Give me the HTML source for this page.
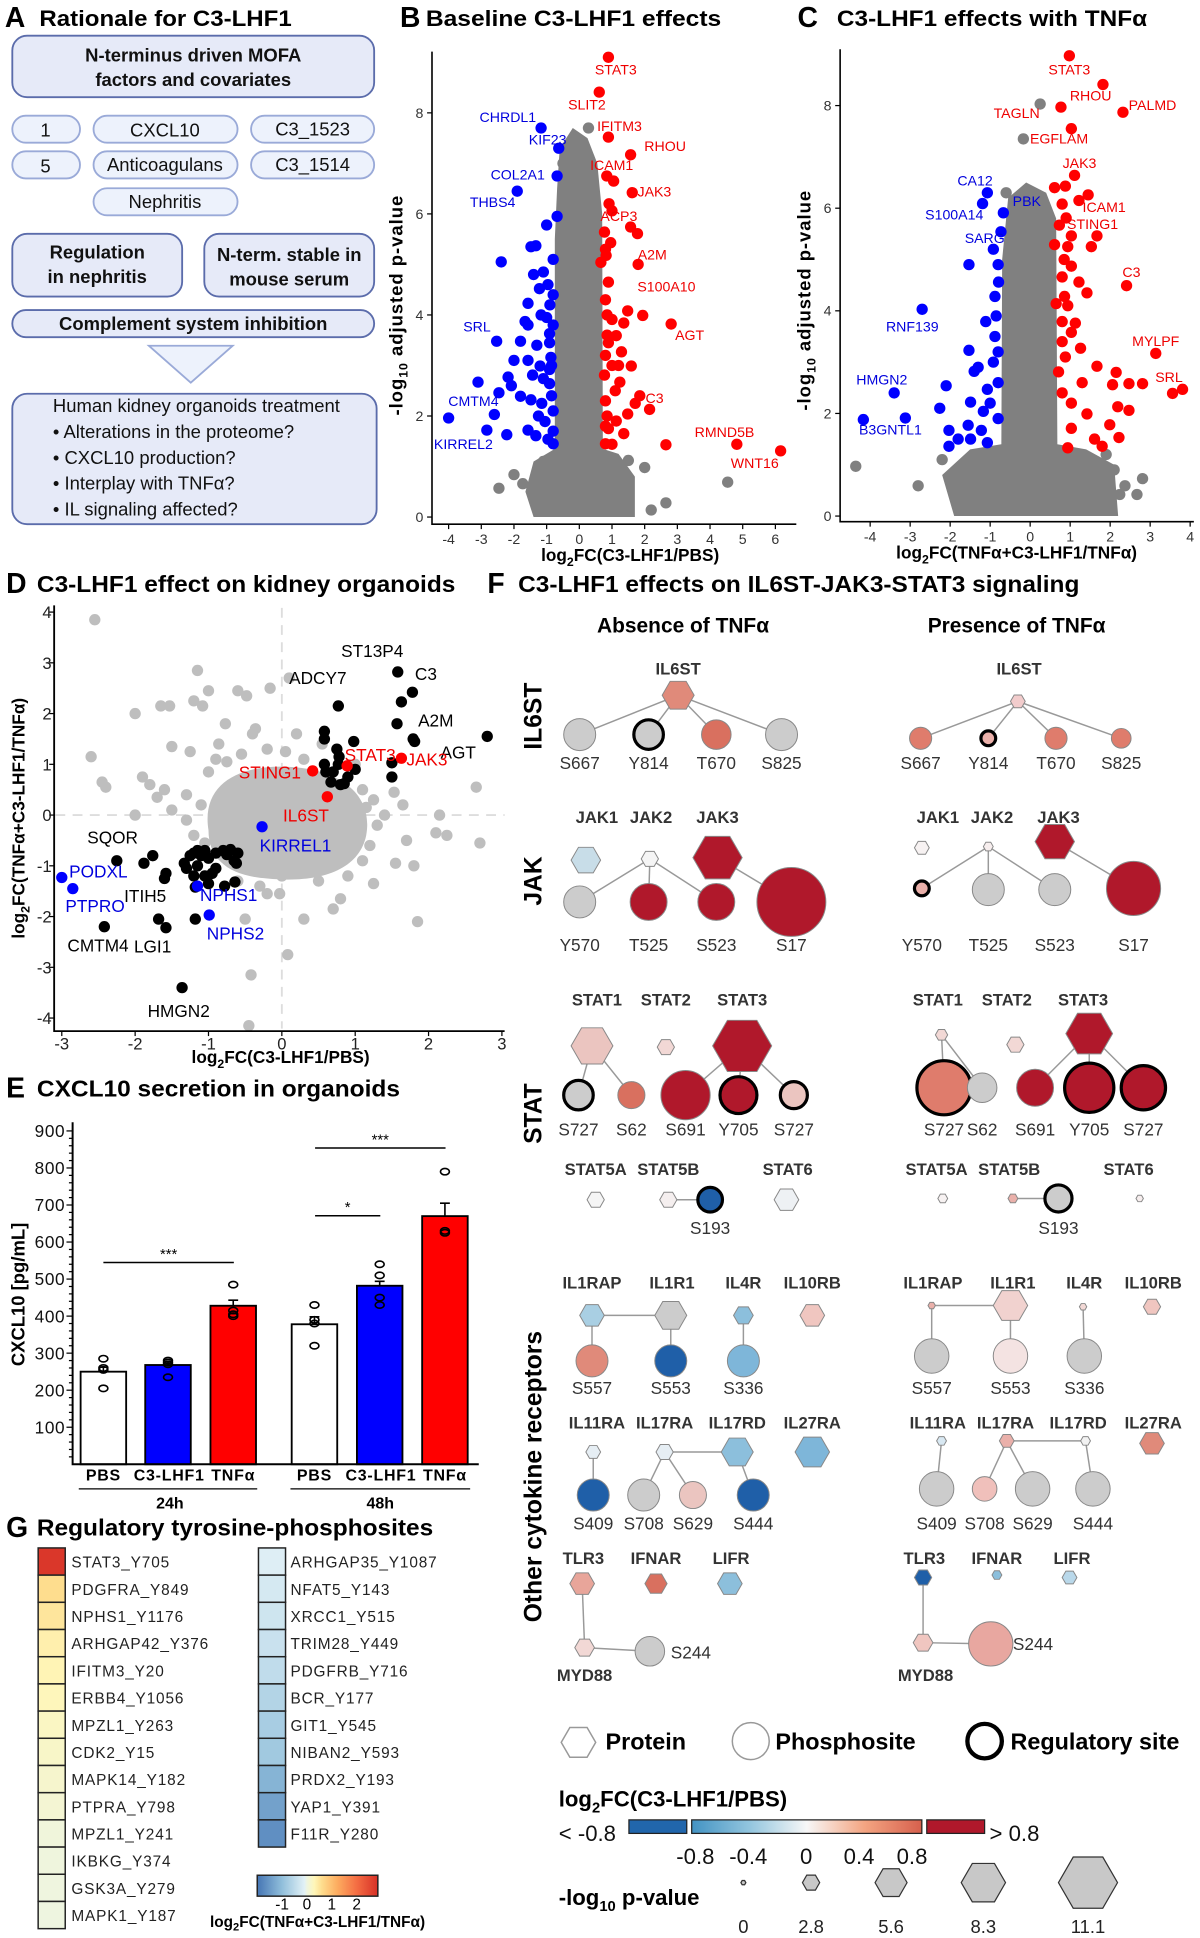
<!DOCTYPE html>
<html><head><meta charset="utf-8"><style>
html,body{margin:0;padding:0;background:#fff}
svg{display:block}
text{font-family:"Liberation Sans",Arial,sans-serif}
.b{font-weight:bold}
</style></head><body>
<svg id="fig" xmlns="http://www.w3.org/2000/svg" width="1200" height="1938" viewBox="0 0 975 1575" preserveAspectRatio="none">
<!-- Panel A -->
<g>
<text x="4" y="22" class="b" font-size="23">A</text>
<text x="32" y="21" class="b" font-size="18" textLength="205" lengthAdjust="spacingAndGlyphs">Rationale for C3-LHF1</text>
<g fill="#e6eaf8" stroke="#5b6cab" stroke-width="1.5">
<rect x="10" y="29" width="294" height="50" rx="12"/>
<rect x="10" y="190" width="138" height="51" rx="12"/>
<rect x="166" y="190" width="138" height="51" rx="12"/>
<rect x="10" y="252" width="294" height="22" rx="11"/>
<rect x="10" y="320" width="296" height="106" rx="12"/>
</g>
<g fill="#edf2fc" stroke="#9aaad8" stroke-width="1.5">
<rect x="10" y="94" width="55" height="22" rx="11"/>
<rect x="76" y="94" width="117" height="22" rx="11"/>
<rect x="204" y="94" width="100" height="22" rx="11"/>
<rect x="10" y="123" width="55" height="22" rx="11"/>
<rect x="76" y="123" width="117" height="22" rx="11"/>
<rect x="204" y="123" width="100" height="22" rx="11"/>
<rect x="76" y="153" width="117" height="22" rx="11"/>
</g>
<polygon points="121,281 189,281 155,311" fill="#edf2fc" stroke="#9aaad8" stroke-width="1.5"/>
<g font-size="15" text-anchor="middle" fill="#111">
<text x="157" y="50" class="b">N-terminus driven MOFA</text>
<text x="157" y="70" class="b">factors and covariates</text>
<text x="37" y="111">1</text>
<text x="134" y="111">CXCL10</text>
<text x="254" y="110">C3_1523</text>
<text x="37" y="140">5</text>
<text x="134" y="139">Anticoagulans</text>
<text x="254" y="139">C3_1514</text>
<text x="134" y="169">Nephritis</text>
<text x="79" y="210" class="b">Regulation</text>
<text x="79" y="230" class="b">in nephritis</text>
<text x="235" y="212" class="b">N-term. stable in</text>
<text x="235" y="232" class="b">mouse serum</text>
<text x="157" y="268" class="b">Complement system inhibition</text>
</g>
<g font-size="15" fill="#111">
<text x="43" y="335">Human kidney organoids treatment</text>
<text x="43" y="356">• Alterations in the proteome?</text>
<text x="43" y="377">• CXCL10 production?</text>
<text x="43" y="398">• Interplay with TNFα?</text>
<text x="43" y="419">• IL signaling affected?</text>
</g>
</g>
<!-- titles -->
<text x="325" y="22" class="b" font-size="23">B</text>
<text x="346" y="21" class="b" font-size="18" textLength="240" lengthAdjust="spacingAndGlyphs">Baseline C3-LHF1 effects</text>
<text x="648" y="22" class="b" font-size="23">C</text>
<text x="680" y="21" class="b" font-size="18" textLength="252" lengthAdjust="spacingAndGlyphs">C3-LHF1 effects with TNFα</text>
<text x="5" y="482" class="b" font-size="23">D</text>
<text x="30" y="481" class="b" font-size="19" textLength="340" lengthAdjust="spacingAndGlyphs">C3-LHF1 effect on kidney organoids</text>
<text x="396" y="482" class="b" font-size="23">F</text>
<text x="421" y="481" class="b" font-size="19" textLength="456" lengthAdjust="spacingAndGlyphs">C3-LHF1 effects on IL6ST-JAK3-STAT3 signaling</text>
<text x="5" y="892" class="b" font-size="23">E</text>
<text x="30" y="891" class="b" font-size="19" textLength="295" lengthAdjust="spacingAndGlyphs">CXCL10 secretion in organoids</text>
<text x="5" y="1249" class="b" font-size="23">G</text>
<text x="30" y="1248" class="b" font-size="19" textLength="322" lengthAdjust="spacingAndGlyphs">Regulatory tyrosine-phosphosites</text>
<g id="gB"></g>
<g id="gC"></g>
<g id="gD"></g>
<g id="gE"></g>
<g id="gG"></g>
<g id="gF"></g>
</svg>
<script>
// ---------- DATA ----------
const bBlue=[[-1.17,7.7],[-0.63,7.3],[-0.68,6.75],[-1.9,6.45],[-1.0,5.78],[-0.68,5.95],[-1.48,5.35],[-1.33,5.37],[-2.39,5.05],[-1.4,4.8],[-1.1,4.85],[-1.22,4.52],[-0.96,4.6],[-1.57,4.23],[-1.17,4.0],[-1.66,3.87],[-1.57,3.8],[-1.0,3.95],[-0.91,3.63],[-2.53,3.48],[-1.8,3.48],[-0.91,3.45],[-0.87,3.16],[-2.0,3.1],[-1.57,3.1],[-1.2,2.99],[-0.91,2.92],[-2.18,2.77],[-1.43,2.81],[-1.1,2.74],[-3.1,2.67],[-0.91,2.64],[-2.08,2.6],[-2.46,2.46],[-1.8,2.39],[-1.48,2.32],[-1.15,2.25],[-2.6,2.03],[-4.0,1.96],[-2.83,1.72],[-2.22,1.63],[-1.57,1.72],[-1.33,1.61],[-0.96,1.54],[-1.05,1.89],[-0.8,1.7],[-0.8,2.1],[-0.8,3.8],[-0.8,4.4],[-0.8,5.1],[-0.85,2.4],[-0.85,3.0],[-0.9,4.2],[-1.3,3.4],[-1.25,2.0],[-0.8,1.45]];
const bRed=[[0.89,9.1],[0.61,8.41],[0.89,7.52],[1.57,7.17],[0.84,6.75],[1.05,6.65],[1.62,6.42],[0.91,6.2],[1.0,6.06],[1.57,5.74],[1.78,5.61],[0.77,5.64],[0.96,5.43],[0.82,5.18],[0.66,5.04],[1.8,5.0],[0.89,4.65],[1.48,4.08],[1.94,3.99],[2.81,3.82],[1.0,3.91],[1.36,3.84],[1.13,3.59],[0.89,3.45],[1.29,3.27],[1.59,2.99],[1.0,3.0],[0.77,2.81],[1.24,2.67],[1.85,2.4],[1.71,2.25],[2.15,2.13],[1.48,2.04],[1.13,1.9],[0.89,1.75],[1.36,1.65],[1.0,1.44],[2.65,1.43],[4.82,1.44],[6.16,1.31],[0.8,2.3],[0.8,3.2],[0.8,4.3],[0.8,5.3],[0.8,1.8],[0.85,2.0],[0.85,3.6],[0.85,4.0],[1.1,2.5],[1.2,3.0],[0.8,1.45]];
const bGray=[[4.54,0.69],[2.65,0.28],[2.2,0.14],[1.5,1.12],[2.0,0.98],[-2.0,0.84],[-2.46,0.57],[-1.73,0.66],[0.28,7.7],[0.3,7.1],[0.35,6.5],[-0.5,7.0],[-0.45,6.6],[0.5,6.0],[-1.1,1.1],[1.2,1.0]];
const bLabels=[["STAT3",0.89,9.1,"#e00",6,14],["SLIT2",0.61,8.41,"#e00",-10,14],["IFITM3",0.89,7.52,"#e00",9,-5],["RHOU",1.57,7.17,"#e00",28,-3],["ICAM1",0.84,6.75,"#e00",4,-5],["JAK3",1.62,6.42,"#e00",18,3],["ACP3",0.91,6.2,"#e00",8,14],["A2M",1.78,5.61,"#e00",12,21],["S100A10",1.8,5.0,"#e00",23,22],["AGT",2.81,3.82,"#e00",15,13],["C3",1.85,2.4,"#e00",12,6],["RMND5B",4.82,1.44,"#e00",-10,-6],["WNT16",6.16,1.31,"#e00",-21,14],["CHRDL1",-1.17,7.7,"#0000dd",-27,-5],["KIF23",-0.63,7.3,"#0000dd",-9,-3],["COL2A1",-0.68,6.75,"#0000dd",-32,3],["THBS4",-1.9,6.45,"#0000dd",-20,13],["SRL",-2.53,3.48,"#0000dd",-16,-8],["CMTM4",-2.6,2.03,"#0000dd",-17,-7],["KIRREL2",-4.0,1.96,"#0000dd",12,25]];
const bXTicks=[-4,-3,-2,-1,0,1,2,3,4,5,6];
const yTicks=[0,2,4,6,8];

const cBlue=[[-1.07,6.3],[-1.19,6.09],[-0.67,5.91],[-0.73,5.54],[-0.92,5.2],[-1.53,4.9],[-0.79,4.56],[-0.88,4.28],[-1.11,3.79],[-2.7,4.03],[-0.88,3.5],[-1.53,3.23],[-0.92,3.0],[-1.4,2.82],[-2.1,2.54],[-3.4,2.4],[-1.07,2.47],[-1.49,2.22],[-1.17,2.04],[-2.26,2.1],[-4.17,1.88],[-3.12,1.91],[-1.55,1.77],[-2.03,1.67],[-1.22,1.67],[-2.03,1.36],[-1.49,1.5],[-1.07,1.43],[-0.8,1.9],[-0.8,2.6],[-0.8,3.2],[-0.85,3.9],[-0.8,4.9],[-1.3,2.9],[-1.0,2.2],[-1.8,1.5]];
const cRed=[[0.98,8.97],[1.82,8.41],[2.32,7.87],[0.77,7.97],[1.03,7.55],[1.11,6.64],[1.45,6.26],[0.88,6.43],[0.61,6.4],[0.8,6.08],[1.22,6.15],[0.9,5.81],[0.73,5.67],[1.03,5.46],[0.61,5.29],[0.94,5.25],[1.67,5.46],[1.53,5.25],[1.03,4.87],[0.8,4.66],[1.22,4.56],[1.42,4.35],[0.86,4.28],[0.65,4.14],[0.94,4.1],[2.41,4.49],[0.8,3.79],[1.13,3.76],[1.03,3.58],[1.26,3.27],[0.88,3.1],[0.71,2.81],[1.67,2.92],[2.15,2.8],[2.47,2.58],[2.06,2.56],[2.81,2.58],[3.14,3.17],[3.56,2.39],[3.81,2.47],[1.03,2.2],[2.19,2.13],[2.47,2.06],[1.42,1.99],[1.99,1.78],[1.03,1.71],[1.61,1.5],[2.22,1.53],[1.8,1.36],[0.94,1.33],[0.8,2.4],[0.8,3.4],[0.85,5.0],[1.3,2.6]];
const cGray=[[-4.36,0.97],[-2.8,0.59],[-1.97,0.66],[2.37,0.59],[2.67,0.42],[2.81,0.73],[2.24,0.42],[0.25,8.03],[-0.17,7.35],[-0.4,6.1],[-0.27,5.82],[0.3,5.82],[-0.6,6.3],[0.4,5.6],[1.9,1.2],[-2.2,1.1],[2.1,0.9]];
const cLabels=[["STAT3",0.98,8.97,"#e00",0,15],["RHOU",1.82,8.41,"#e00",-10,13],["PALMD",2.32,7.87,"#e00",24,-2],["TAGLN",0.77,7.97,"#e00",-36,9],["EGFLAM",1.03,7.55,"#e00",-10,12],["JAK3",1.11,6.64,"#e00",4,-6],["ICAM1",1.45,6.26,"#e00",13,14],["STING1",0.73,5.67,"#e00",27,3],["C3",2.41,4.49,"#e00",4,-7],["MYLPF",3.14,3.17,"#e00",0,-6],["SRL",3.81,2.47,"#e00",-11,-6],["CA12",-1.07,6.3,"#0000dd",-10,-6],["PBK",-0.73,5.54,"#0000dd",21,-21],["S100A14",-1.19,6.09,"#0000dd",-23,13],["SARG",-0.92,5.2,"#0000dd",-7,-5],["RNF139",-2.7,4.03,"#0000dd",-8,18],["HMGN2",-3.4,2.4,"#0000dd",-10,-7],["B3GNTL1",-4.17,1.88,"#0000dd",22,12]];
const cXTicks=[-4,-3,-2,-1,0,1,2,3,4];

const dGray=[[-2.55,3.85],[-1.15,2.85],[0.1,2.7],[-1.0,2.45],[-0.6,2.45],[-0.48,2.35],[-0.16,2.5],[-1.2,2.25],[-1.08,2.15],[-1.65,2.15],[-1.53,2.15],[-2.0,2.0],[-0.77,1.8],[-0.36,1.7],[-1.5,1.35],[-0.86,1.4],[-2.6,1.15],[-2.45,0.65],[-2.4,0.55],[-1.9,0.75],[-1.8,0.6],[-1.6,0.5],[-1.7,0.35],[-2.0,0.0],[-1.5,0.1],[-1.3,-0.1],[-1.2,-0.4],[-1.3,0.4],[2.65,0.55],[2.7,-0.55],[2.15,0.0],[2.1,-0.35],[1.7,-0.5],[1.55,-0.95],[1.8,-1.0],[2.25,-0.4],[1.25,-1.35],[0.3,-2.05],[-0.5,-2.05],[0.8,-1.65],[0.7,-1.85],[0.08,-2.75],[-0.42,-3.15],[-0.45,-4.15],[1.85,-2.1],[-0.2,-1.55],[-0.03,-1.55],[1.53,0.45],[1.65,0.2],[-0.9,1.1],[-0.4,1.6],[0.2,1.6],[0.55,1.4],[-0.55,1.2],[0.05,1.25],[-1.25,1.25],[-1.0,0.85],[-0.75,1.05],[-0.2,1.3],[1.1,0.5],[1.25,0.3],[1.4,0.0],[1.2,-0.6],[1.1,-0.9],[-0.6,-1.3],[0.0,-1.2],[0.5,-1.3],[-1.1,0.2],[-0.9,-0.3],[1.0,1.0],[0.3,1.1],[-1.05,-0.55],[1.3,-0.2],[0.9,-1.2],[-0.3,-1.4],[1.15,0.15]];
const dBlack=[[1.58,2.82],[1.78,2.42],[1.63,2.23],[1.79,1.5],[1.81,1.45],[2.8,1.55],[0.77,2.15],[0.58,1.65],[0.58,1.5],[0.98,1.45],[0.75,1.3],[0.78,1.15],[0.58,1.0],[0.77,1.0],[0.6,0.85],[0.7,0.85],[1.0,0.9],[0.67,0.65],[0.8,0.6],[0.85,0.62],[0.9,0.75],[1.5,1.03],[1.5,0.75],[1.57,1.8],[-2.25,-0.9],[-2.42,-2.2],[-1.58,-2.22],[-1.68,-2.05],[-1.36,-3.4],[-1.88,-0.95],[-1.76,-0.8],[-1.58,-1.15],[-1.6,-1.25],[-1.33,-0.95],[-1.3,-1.05],[-1.2,-0.75],[-1.15,-0.7],[-1.1,-0.8],[-1.05,-0.7],[-1.0,-0.85],[-0.9,-0.75],[-0.8,-0.7],[-0.75,-0.78],[-0.7,-0.68],[-0.65,-0.9],[-0.62,-0.95],[-0.6,-0.75],[-1.15,-1.0],[-1.05,-1.2],[-0.95,-1.15],[-0.9,-1.05],[-1.0,-1.35],[-0.78,-1.4],[-0.64,-1.32],[-1.18,-1.42],[-1.18,-2.05],[-1.2,-1.2],[-1.25,-0.8]];
const dRed=[[0.89,0.97],[1.63,1.12],[0.42,0.87],[0.62,0.36]];
const dBlue=[[-0.27,-0.23],[-3.0,-1.23],[-2.85,-1.45],[-1.15,-1.4],[-0.99,-1.97]];
const dLabels=[["ST13P4",1.58,2.82,"#000",-46,-12],["C3",1.78,2.42,"#000",2,-10],["ADCY7",0.77,2.15,"#000",-40,-18],["A2M",1.79,1.5,"#000",4,-10],["AGT",2.8,1.55,"#000",-38,18],["STAT3",0.89,0.97,"#e00",-2,-4],["JAK3",1.63,1.12,"#e00",4,6],["STING1",0.42,0.87,"#e00",-60,6],["IL6ST",0.62,0.36,"#e00",-36,20],["KIRREL1",-0.27,-0.23,"#0000dd",-2,20],["PODXL",-3.0,-1.23,"#0000dd",6,0],["PTPRO",-2.85,-1.45,"#0000dd",-6,19],["NPHS1",-1.15,-1.4,"#0000dd",2,12],["NPHS2",-0.99,-1.97,"#0000dd",-2,20],["SQOR",-2.25,-0.9,"#000",-24,-14],["CMTM4",-2.42,-2.2,"#000",-30,20],["LGI1",-1.58,-2.22,"#000",-26,20],["ITIH5",-1.68,-2.05,"#000",-28,-14],["HMGN2",-1.36,-3.4,"#000",-28,24]];
const dXTicks=[-3,-2,-1,0,1,2,3];
const dYTicks=[-4,-3,-2,-1,0,1,2,3,4];

const eGroups=["PBS","C3-LHF1","TNFα","PBS","C3-LHF1","TNFα"];
const eMeans=[250,268,428,378,482,670];
const eErr=[12,8,15,20,12,35];
const eDots=[[285,260,255,205],[280,275,270,235],[485,415,405,400],[430,390,380,320],[540,510,450,430],[790,630,625]];
const eYTicks=[100,200,300,400,500,600,700,800,900];

const gLeftNames=["STAT3_Y705","PDGFRA_Y849","NPHS1_Y1176","ARHGAP42_Y376","IFITM3_Y20","ERBB4_Y1056","MPZL1_Y263","CDK2_Y15","MAPK14_Y182","PTPRA_Y798","MPZL1_Y241","IKBKG_Y374","GSK3A_Y279","MAPK1_Y187"];
const gLeftVals=[2.75,0.6,0.5,0.38,0.32,0.28,0.22,0.18,0.14,0.1,0.04,0.02,0.01,0.0];
const gRightNames=["ARHGAP35_Y1087","NFAT5_Y143","XRCC1_Y515","TRIM28_Y449","PDGFRB_Y716","BCR_Y177","GIT1_Y545","NIBAN2_Y593","PRDX2_Y193","YAP1_Y391","F11R_Y280"];
const gRightVals=[-0.15,-0.25,-0.32,-0.38,-0.48,-0.62,-0.75,-0.82,-1.15,-1.4,-1.65];
const gTicks=[-1,0,1,2];

// ---------- helpers ----------
const NS="http://www.w3.org/2000/svg";
function mk(tag,attrs,parent,txt){const e=document.createElementNS(NS,tag);for(const k in attrs)e.setAttribute(k,attrs[k]);if(txt!==undefined)e.textContent=txt;parent.appendChild(e);return e;}

function volcano(g,o){
  const sx=v=>o.x0+v*o.kx, sy=v=>o.y0-v*o.ky;
  const body=mk('polygon',{points:o.body.map(p=>sx(p[0])+','+sy(p[1])).join(' '),fill:'#808080'},g);
  
  
  o.gray.forEach(p=>{const c=mk('circle',{cx:sx(p[0]),cy:sy(p[1]),r:4.6,fill:'#808080'},g);
    
    });
  o.blue.forEach(p=>{const c=mk('circle',{cx:sx(p[0]),cy:sy(p[1]),r:4.6,fill:'#0000ff'},g);
    
    });
  o.red.forEach(p=>{const c=mk('circle',{cx:sx(p[0]),cy:sy(p[1]),r:4.6,fill:'#ff0000'},g);
    
    });
  o.labels.forEach(l=>{const t=mk('text',{x:sx(l[1])+l[4],y:sy(l[2])+l[5],fill:l[3],'font-size':11.5,'text-anchor':'middle'},g,l[0]);
    
    });
  const ax=mk('path',{d:`M${o.ax},${o.top}V${o.bot}H${o.right}`,stroke:'#000','stroke-width':1.3,fill:'none'},g);
  
  
  o.xt.forEach(v=>{mk('line',{x1:sx(v),x2:sx(v),y1:o.bot,y2:o.bot+4,stroke:'#000'},g);
    const t=mk('text',{x:sx(v),y:o.bot+16,'font-size':11.5,'text-anchor':'middle',fill:'#333'},g,v);
    
    });
  yTicks.forEach(v=>{mk('line',{x1:o.ax-4,x2:o.ax,y1:sy(v),y2:sy(v),stroke:'#000'},g);
    const t=mk('text',{x:o.ax-7,y:sy(v)+4,'font-size':11.5,'text-anchor':'end',fill:'#333'},g,v);
    
    });
  const xl=mk('text',{x:o.xlx,y:o.bot+30,'font-size':14,'text-anchor':'middle',class:'b'},g);
  xl.innerHTML='log<tspan font-size="10" dy="4">2</tspan><tspan dy="-4">'+o.xlab+'</tspan>';
  
  
  const yl=mk('text',{x:0,y:0,'font-size':15,'text-anchor':'middle',class:'b',transform:`translate(${o.ax-24},${o.ylc}) rotate(-90)`,'letter-spacing':'0.8'},g);
  yl.innerHTML='-log<tspan font-size="10" dy="4">10</tspan><tspan dy="-4"> adjusted p-value</tspan>';
  
  
}
volcano(document.getElementById('gB'),{x0:470.7,kx:26.55,y0:420.2,ky:41.06,ax:351,top:42,bot:426,right:647,
 body:[[-0.6,7.3],[-0.2,7.7],[0.25,7.5],[0.55,7.0],[0.7,6.0],[0.72,1.35],[1.2,1.25],[1.7,0.8],[1.7,0.0],[-1.4,0.0],[-1.65,0.5],[-1.4,1.1],[-0.75,1.35],[-0.75,5.5],[-0.68,6.5]],
 gray:bGray,blue:bBlue,red:bRed,labels:bLabels,xt:bXTicks,xlab:'FC(C3-LHF1/PBS)',xlx:512,ylc:248});
volcano(document.getElementById('gC'),{x0:837,kx:32.5,y0:419.4,ky:41.7,ax:682.6,top:40,bot:424,right:970,
 body:[[-0.55,6.2],[-0.1,6.5],[0.4,6.3],[0.65,5.8],[0.68,1.4],[1.4,1.3],[2.1,1.0],[2.2,0.0],[-1.9,0.0],[-2.2,0.8],[-1.5,1.3],[-0.72,1.4],[-0.7,5.0]],
 gray:cGray,blue:cBlue,red:cRed,labels:cLabels,xt:cXTicks,xlab:'FC(TNFα+C3-LHF1/TNFα)',xlx:826,ylc:244});

// ---------- Panel D ----------
(function(){
 const g=document.getElementById('gD');
 const sx=v=>229+v*59.6, sy=v=>662.4-v*41.24;
 mk('line',{x1:sx(0),x2:sx(0),y1:494,y2:836,stroke:'#ddd','stroke-dasharray':'8,6','stroke-width':1.5},g);
 mk('line',{x1:45,x2:410,y1:sy(0),y2:sy(0),stroke:'#ddd','stroke-dasharray':'8,6','stroke-width':1.5},g);
 const blob=mk('path',{d:`M${sx(-1.0)},${sy(-0.3)} C${sx(-1.1)},${sy(0.6)} ${sx(-0.6)},${sy(1.0)} ${sx(0.1)},${sy(0.95)} C${sx(0.8)},${sy(0.9)} ${sx(1.25)},${sy(0.4)} ${sx(1.15)},${sy(-0.4)} C${sx(1.05)},${sy(-1.1)} ${sx(0.5)},${sy(-1.35)} ${sx(-0.2)},${sy(-1.25)} C${sx(-0.7)},${sy(-1.2)} ${sx(-1.0)},${sy(-0.9)} ${sx(-1.0)},${sy(-0.3)}Z`,fill:'#bebebe'},g);
 
 
 const pts=(arr,col,name)=>arr.forEach(p=>{const c=mk('circle',{cx:sx(p[0]),cy:sy(p[1]),r:4.6,fill:col},g);
   
   });
 pts(dGray,'#bebebe','point-background');
 pts(dBlack,'#000','point-shared');
 pts(dRed,'#ff0000','point-jak-stat');
 pts(dBlue,'#0000ff','point-podocyte');
 dLabels.forEach(l=>{const t=mk('text',{x:sx(l[1])+l[4],y:sy(l[2])+l[5],fill:l[3],'font-size':14},g,l[0]);
   
   });
 const ax=mk('path',{d:'M44,492V838H410',stroke:'#000','stroke-width':1.5,fill:'none'},g);
 
 
 dXTicks.forEach(v=>{mk('line',{x1:sx(v),x2:sx(v),y1:838,y2:842,stroke:'#000'},g);
   const t=mk('text',{x:sx(v),y:853,'font-size':13.5,'text-anchor':'middle',fill:'#222'},g,v);
   
   });
 dYTicks.forEach(v=>{mk('line',{x1:40,x2:44,y1:sy(v),y2:sy(v),stroke:'#000'},g);
   const t=mk('text',{x:42,y:sy(v)+5,'font-size':13.5,'text-anchor':'end',fill:'#222'},g,v);
   
   });
 const xl=mk('text',{x:228,y:864,'font-size':14,'text-anchor':'middle',class:'b'},g);
 xl.innerHTML='log<tspan font-size="10" dy="4">2</tspan><tspan dy="-4">FC(C3-LHF1/PBS)</tspan>';
 
 
 const yl=mk('text',{x:0,y:0,'font-size':14,'text-anchor':'middle',class:'b',transform:'translate(20,665) rotate(-90)'},g);
 yl.innerHTML='log<tspan font-size="10" dy="4">2</tspan><tspan dy="-4">FC(TNFα+C3-LHF1/TNFα)</tspan>';
 
 
})();

// ---------- Panel E ----------
(function(){
 const g=document.getElementById('gE');
 const sy=v=>1190-v*0.301;
 const xs=[65.5,118,171,237,290,343], bw=37;
 const fills=['#fff','#0000ff','#ff0000','#fff','#0000ff','#ff0000'];
 eMeans.forEach((m,i)=>{
  const b=mk('rect',{x:xs[i],y:sy(m),width:bw,height:sy(0)-sy(m),fill:fills[i],stroke:'#000','stroke-width':1.5},g);
  
  
  const cx=xs[i]+bw/2;
  mk('path',{d:`M${cx},${sy(m)}V${sy(m+eErr[i])}M${cx-4},${sy(m+eErr[i])}H${cx+4}`,stroke:'#000','stroke-width':1.3},g);
  eDots[i].forEach(v=>{const c=mk('ellipse',{cx:cx,cy:sy(v),rx:3.6,ry:2.6,fill:'none',stroke:'#000','stroke-width':1.3},g);
   
   });
 });
 const ax=mk('path',{d:'M59,912V1190H389',stroke:'#000','stroke-width':1.6,fill:'none'},g);
 
 
 for(let v=20;v<=900;v+=20){mk('line',{x1:v%100?56:54,x2:59,y1:sy(v),y2:sy(v),stroke:'#000','stroke-width':1},g);}
 eYTicks.forEach(v=>{const t=mk('text',{x:53,y:sy(v)+5,'font-size':14,'text-anchor':'end','letter-spacing':'0.5',fill:'#111'},g,v);
   
   });
 const yl=mk('text',{x:0,y:0,'font-size':15,'text-anchor':'middle',class:'b',transform:'translate(20,1052) rotate(-90)'},g,'CXCL10 [pg/mL]');
 
 
 eGroups.forEach((n,i)=>{const t=mk('text',{x:xs[i]+bw/2+(n==='C3-LHF1'?1:0),y:1203,'font-size':13,'text-anchor':'middle',class:'b','letter-spacing':'0.6'},g,n);
   
   });
 const u1=mk('line',{x1:64,x2:209,y1:1210,y2:1210,stroke:'#000'},g);
 
 
 const u2=mk('line',{x1:236,x2:382,y1:1210,y2:1210,stroke:'#000'},g);
 
 
 const l1=mk('text',{x:138,y:1226,'font-size':13,'text-anchor':'middle',class:'b'},g,'24h');
 
 
 const l2=mk('text',{x:309,y:1226,'font-size':13,'text-anchor':'middle',class:'b'},g,'48h');
 
 
 [[84,190,1026,'***'],[256,309,988,'*'],[256,362,933,'***']].forEach(s=>{
  mk('line',{x1:s[0],x2:s[1],y1:s[2],y2:s[2],stroke:'#000','stroke-width':1.2},g);
  const t=mk('text',{x:(s[0]+s[1])/2,y:s[2]-3,'font-size':12,'text-anchor':'middle'},g,s[3]);
  
  });
})();

// ---------- Panel G ----------
const cmStops=[[-2,[69,117,180]],[-1,[145,191,219]],[-0.1,[226,241,246]],[0,[238,245,224]],[0.3,[255,246,184]],[0.6,[254,221,142]],[1.2,[253,174,97]],[2,[244,109,67]],[2.85,[215,48,39]]];
function cmap(v){if(v<=cmStops[0][0])return 'rgb('+cmStops[0][1]+')';for(let i=1;i<cmStops.length;i++){if(v<=cmStops[i][0]){const a=cmStops[i-1],b=cmStops[i],t=(v-a[0])/(b[0]-a[0]);return 'rgb('+a[1].map((c,j)=>Math.round(c+(b[1][j]-c)*t)).join(',')+')';}}return 'rgb('+cmStops[cmStops.length-1][1]+')';}
(function(){
 const g=document.getElementById('gG');
 const h=22.1, y0=1258;
 gLeftVals.forEach((v,i)=>{const r=mk('rect',{x:31,y:y0+i*h,width:22,height:h,fill:cmap(v),stroke:'#222','stroke-width':1.2},g);
  
  
  const t=mk('text',{x:58,y:y0+i*h+16,'font-size':12.5,'letter-spacing':'0.7',fill:'#222'},g,gLeftNames[i]);
  
  });
 gRightVals.forEach((v,i)=>{const r=mk('rect',{x:210,y:y0+i*h,width:22,height:h,fill:cmap(v),stroke:'#222','stroke-width':1.2},g);
  
  
  const t=mk('text',{x:236,y:y0+i*h+16,'font-size':12.5,'letter-spacing':'0.7',fill:'#222'},g,gRightNames[i]);
  
  });
 const defs=mk('defs',{},g);
 const lg=mk('linearGradient',{id:'gGrad',x1:0,x2:1,y1:0,y2:0},defs);
 const lo=-2,hi=2.85;
 cmStops.forEach(s=>mk('stop',{offset:((s[0]-lo)/(hi-lo)),'stop-color':'rgb('+s[1]+')'},lg));
 const cb=mk('rect',{x:209,y:1524,width:98,height:17,fill:'url(#gGrad)',stroke:'#222','stroke-width':1.2},g);
 
 
 gTicks.forEach(v=>{const x=209+(v-lo)/(hi-lo)*98;
  const t=mk('text',{x:x,y:1552,'font-size':12.5,'text-anchor':'middle'},g,v);
  
  });
 const ct=mk('text',{x:258,y:1566,'font-size':12.5,'text-anchor':'middle',class:'b'},g);
 ct.innerHTML='log<tspan font-size="9" dy="3">2</tspan><tspan dy="-3">FC(TNFα+C3-LHF1/TNFα)</tspan>';
 
 
})();

// ---------- Panel F network ----------
const DR='#b0182b',GR='#cccccc',DB='#1f5fa8';
const fNodes=[
 ['a-il6st',551,565,13,'h','#e08a7a',0],['a-s667',471,597,13,'c',GR,0,'S667'],['a-y814',527,597,12,'c',GR,1,'Y814'],['a-t670',582,597,12,'c','#d9705f',0,'T670'],['a-s825',635,597,13,'c',GR,0,'S825'],
 ['a-jak1',476,699,12,'h','#c8dde8',0],['a-jak2',528,698,7,'h','#f5f5f5',0],['a-jak3',583,697,20,'h',DR,0],
 ['a-y570',471,733,13,'c',GR,0,'Y570'],['a-t525',527,733,15,'c',DR,0,'T525'],['a-s523',582,733,15,'c',DR,0,'S523'],['a-s17',643,733,28,'c',DR,0,'S17'],
 ['a-stat1',481,850,17,'h','#ebc5c0',0],['a-stat2',541,851,7,'h','#f2d8d5',0],['a-stat3',603,850,24,'h',DR,0],
 ['a-s727a',470,890,12,'c',GR,1,'S727'],['a-s62',513,890,11,'c','#d9705f',0,'S62'],['a-s691',557,890,20,'c',DR,0,'S691'],['a-y705',600,890,15,'c',DR,1,'Y705'],['a-s727b',645,890,11,'c','#ebc5c0',1,'S727'],
 ['a-stat5a',484,975,7,'h','#f5f5f5',0],['a-stat5b',543,975,7,'h','#f5efef',0],['a-s193',577,975,10,'c',DB,1,'S193'],['a-stat6',639,975,10,'h','#eef1f4',0],
 ['a-il1rap',481,1069,10,'h','#a9cfe3',0],['a-il1r1',545,1069,13,'h',GR,0],['a-il4r',604,1069,8,'h','#8cbfdc',0],['a-il10rb',660,1069,10,'h','#f0c6c0',0],
 ['a-s557',481,1106,13,'c','#e08a7a',0,'S557'],['a-s553',545,1106,13,'c',DB,0,'S553'],['a-s336',604,1106,13,'c','#7eb6d9',0,'S336'],
 ['a-il11ra',482,1180,6,'h','#e6eef4',0],['a-il17ra',540,1180,7,'h','#e6eef4',0],['a-il17rd',599,1180,13,'h','#8cbfdc',0],['a-il27ra',660,1180,14,'h','#7eb6d9',0],
 ['a-s409',482,1215,13,'c',DB,0,'S409'],['a-s708',523,1215,13,'c',GR,0,'S708'],['a-s629',563,1215,11,'c','#ebc5c0',0,'S629'],['a-s444',612,1215,13,'c',DB,0,'S444'],
 ['a-tlr3',473,1287,10,'h','#e8a59a',0],['a-ifnar',533,1287,9,'h','#d9705f',0],['a-lifr',593,1287,10,'h','#8cbfdc',0],
 ['a-myd88',475,1339,8,'h','#f2d8d5',0],['a-s244',528,1342,12,'c',GR,0],
 ['p-il6st',827,570,6,'h','#f2cccc',0],['p-s667',748,600,9,'c','#df7c6c',0,'S667'],['p-y814',803,600,6,'c','#eab0aa',1,'Y814'],['p-t670',858,600,9,'c','#df7c6c',0,'T670'],['p-s825',911,600,8,'c','#df7c6c',0,'S825'],
 ['p-jak1',749,689,6,'h','#f7f2f2',0],['p-jak2',803,688,4,'h','#f7eeee',0],['p-jak3',857,684,16,'h',DR,0],
 ['p-y570',749,722,6,'c','#eab0aa',1,'Y570'],['p-t525',803,723,13,'c',GR,0,'T525'],['p-s523',857,723,13,'c',GR,0,'S523'],['p-s17',921,722,22,'c',DR,0,'S17'],
 ['p-stat1',765,841,5,'h','#f2d8d5',0],['p-stat2',825,849,7,'h','#f2d8d5',0],['p-stat3',885,840,19,'h',DR,0],
 ['p-s727a',767,884,22,'c','#df7c6c',1,'S727'],['p-s62',798,884,12,'c',GR,0,'S62'],['p-s691',841,884,15,'c',DR,0,'S691'],['p-y705',885,884,20,'c',DR,1,'Y705'],['p-s727b',929,884,18,'c',DR,1,'S727'],
 ['p-stat5a',766,974,4,'h','#f7f2f2',0],['p-stat5b',823,974,4,'h','#eab0aa',0],['p-s193',860,974,11,'c',GR,1,'S193'],['p-stat6',926,974,3,'h','#f7eeee',0],
 ['p-il1rap',757,1061,3,'h','#eab0aa',0],['p-il1r1',821,1061,14,'h','#f1d2cf',0],['p-il4r',880,1062,3,'h','#f2d8d5',0],['p-il10rb',936,1062,7,'h','#f0c6c0',0],
 ['p-s557',757,1102,14,'c',GR,0,'S557'],['p-s553',821,1102,14,'c','#f4e3e2',0,'S553'],['p-s336',881,1102,14,'c',GR,0,'S336'],
 ['p-il11ra',765,1171,4,'h','#d8e8f2',0],['p-il17ra',818,1171,6,'h','#eab0aa',0],['p-il17rd',882,1171,4,'h','#f2f2f2',0],['p-il27ra',936,1173,10,'h','#e08a7a',0],
 ['p-s409',761,1210,14,'c',GR,0,'S409'],['p-s708',800,1210,10,'c','#f0c0bb',0,'S708'],['p-s629',839,1210,14,'c',GR,0,'S629'],['p-s444',888,1210,14,'c',GR,0,'S444'],
 ['p-tlr3',750,1282,7,'h',DB,0],['p-ifnar',810,1280,4,'h','#8cbfdc',0],['p-lifr',869,1282,6,'h','#b9d8ea',0],
 ['p-myd88',750,1335,8,'h','#f0c6c0',0],['p-s244',805,1336,18,'c','#e8a7a0',0]
];
const fEdges=[['il6st','s667'],['il6st','y814'],['il6st','t670'],['il6st','s825'],['jak2','y570'],['jak2','t525'],['jak2','s523'],['jak3','s17'],
 ['stat1','s727a'],['stat1','s62'],['stat3','s691'],['stat3','y705'],['stat3','s727b'],['stat5b','s193'],
 ['il1rap','il1r1'],['il1rap','s557'],['il1r1','s553'],['il4r','s336'],['il11ra','s409'],['il17ra','il17rd'],['il17ra','s708'],['il17ra','s629'],['il17rd','s444'],['tlr3','myd88'],['myd88','s244']];
const fProtLabels=[['IL6ST',551,548],['JAK1',485,669],['JAK2',529,669],['JAK3',583,669],['STAT1',485,817],['STAT2',541,817],['STAT3',603,817],['STAT5A',484,955],['STAT5B',543,955],['STAT6',640,955],
 ['IL1RAP',481,1047],['IL1R1',546,1047],['IL4R',604,1047],['IL10RB',660,1047],['IL11RA',485,1161],['IL17RA',540,1161],['IL17RD',599,1161],['IL27RA',660,1161],['TLR3',474,1271],['IFNAR',533,1271],['LIFR',594,1271],['MYD88',475,1366]];
function siteLabelY(y){if(y<650)return 625;if(y<800)return 773;if(y<950)return 923;if(y<1000)return 1003;if(y<1150)return 1133;return 1243;}
(function(){
 const g=document.getElementById('gF');
 const byId={};fNodes.forEach(n=>byId[n[0]]=n);
 ['a','p'].forEach(side=>fEdges.forEach(e=>{const a=byId[side+'-'+e[0]],b=byId[side+'-'+e[1]];if(!a||!b)return;
   const l=mk('line',{x1:a[1],y1:a[2],x2:b[1],y2:b[2],stroke:'#999','stroke-width':1.2},g);
   
   }));
 const hex=(x,y,r)=>[0,60,120,180,240,300].map(a=>(x+r*Math.cos(a*Math.PI/180)).toFixed(1)+','+(y+r*Math.sin(a*Math.PI/180)).toFixed(1)).join(' ');
 fNodes.forEach(n=>{let el;
  if(n[4]==='h') el=mk('polygon',{points:hex(n[1],n[2],n[3]),fill:n[5],stroke:'#888','stroke-width':0.8},g);
  else el=mk('circle',{cx:n[1],cy:n[2],r:n[3],fill:n[5],stroke:n[6]?'#000':'#888','stroke-width':n[6]?2.6:0.8},g);
  
  
  if(n[7]){const t=mk('text',{x:n[1],y:siteLabelY(n[2]),'font-size':14,'text-anchor':'middle',fill:'#333'},g,n[7]);
   
   }
 });
 [[545,1348],[823,1341]].forEach(p=>{const t=mk('text',{x:p[0],y:p[1],'font-size':14,fill:'#333'},g,'S244');
  
  });
 fProtLabels.forEach(p=>{
  [0,1].forEach(side=>{
   let x=p[1]+(side?277:0);
   if(p[0]==='IL6ST'&&side)x=828;
   const t=mk('text',{x:x,y:p[2],'font-size':13.5,'text-anchor':'middle',class:'b',fill:'#333'},g,p[0]);
   
   
  });
 });
 [['Absence of TNFα',555],['Presence of TNFα',826]].forEach(h=>{const t=mk('text',{x:h[1],y:514,'font-size':17,'text-anchor':'middle',class:'b'},g,h[0]);
  
  });
 [['IL6ST',582],['JAK',716],['STAT',905],['Other cytokine receptors',1200]].forEach(r=>{const t=mk('text',{x:0,y:0,'font-size':20,'text-anchor':'middle',class:'b',transform:`translate(440,${r[1]}) rotate(-90)`},g,r[0]);
  
  });
 const lh=mk('polygon',{points:hex(470,1416,14),fill:'#fff',stroke:'#999','stroke-width':1.2},g);
 
 
 const lc=mk('circle',{cx:610,cy:1415,r:15,fill:'#fff',stroke:'#999','stroke-width':1.2},g);
 
 
 const lr=mk('circle',{cx:800,cy:1415,r:14,fill:'#fff',stroke:'#000','stroke-width':3.5},g);
 
 
 [['Protein',492],['Phosphosite',630],['Regulatory site',821]].forEach(l=>{const t=mk('text',{x:l[1],y:1422,'font-size':19,class:'b'},g,l[0]);
  
  });
 const ct=mk('text',{x:454,y:1468,'font-size':18,class:'b'},g);
 ct.innerHTML='log<tspan font-size="12" dy="5">2</tspan><tspan dy="-5">FC(C3-LHF1/PBS)</tspan>';
 
 
 const defs=mk('defs',{},g);
 const lg=mk('linearGradient',{id:'fGrad',x1:0,x2:1,y1:0,y2:0},defs);
 [[0,'#4393c3'],[0.25,'#92c5de'],[0.5,'#f7f7f7'],[0.75,'#f4a582'],[1,'#d6604d']].forEach(s=>mk('stop',{offset:s[0],'stop-color':s[1]},lg));
 const r1=mk('rect',{x:511,y:1479,width:47,height:11,fill:'#2166ac',stroke:'#222'},g);
 const r2=mk('rect',{x:562,y:1479,width:187,height:11,fill:'url(#fGrad)',stroke:'#222'},g);
 const r3=mk('rect',{x:753,y:1479,width:47,height:11,fill:DR,stroke:'#222'},g);
 [['< -0.8',454,1496,'start'],['> 0.8',804,1496,'start'],['-0.8',565,1515,'middle'],['-0.4',608,1515,'middle'],['0',655,1515,'middle'],['0.4',698,1515,'middle'],['0.8',741,1515,'middle']].forEach(l=>{
  const t=mk('text',{x:l[1],y:l[2],'font-size':18,'text-anchor':l[3],fill:'#111'},g,l[0]);
  
  });
 const pt=mk('text',{x:454,y:1548,'font-size':18,class:'b'},g);
 pt.innerHTML='-log<tspan font-size="12" dy="5">10</tspan><tspan dy="-5"> p-value</tspan>';
 
 
 [[604,2,'0'],[659,7,'2.8'],[724,13,'5.6'],[799,18,'8.3'],[884,24,'11.1']].forEach(s=>{
  const h=mk('polygon',{points:hex(s[0],1530,s[1]),fill:'#c8c8c8',stroke:'#333','stroke-width':1},g);
  
  
  const t=mk('text',{x:s[0],y:1571,'font-size':15,'text-anchor':'middle',fill:'#222'},g,s[2]);
  
  });
})();
</script>
</body></html>
